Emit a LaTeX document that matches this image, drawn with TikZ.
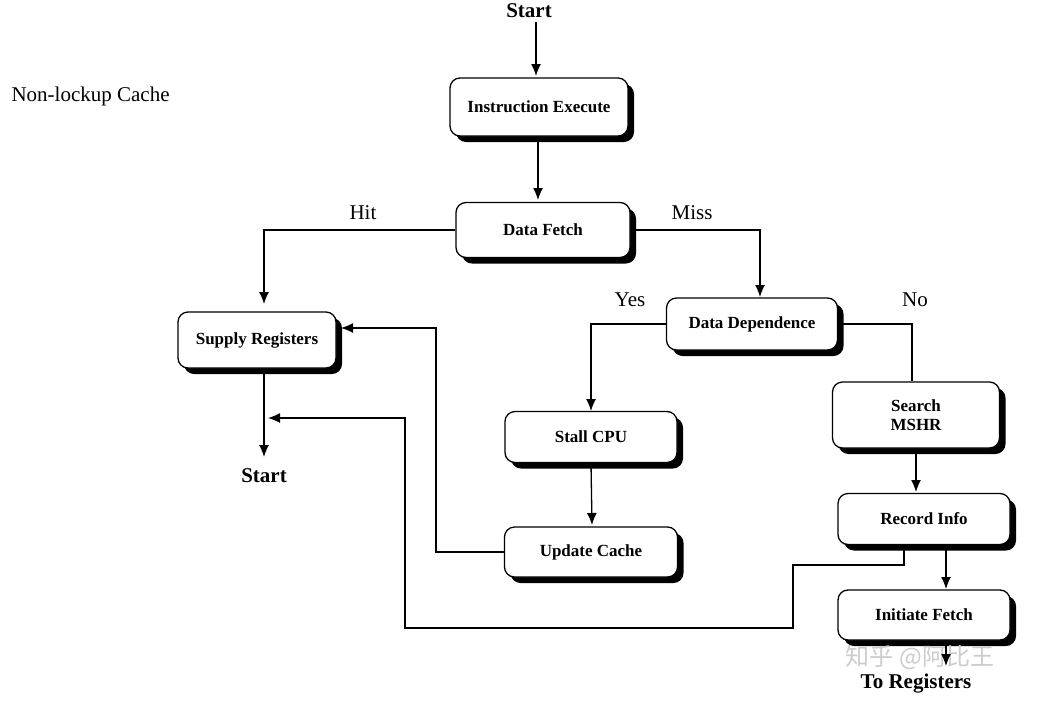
\documentclass[tikz,border=0pt]{standalone}
\usepackage{fontspec}
\setmainfont{Liberation Serif}
\newfontfamily\cjk{Noto Sans CJK SC}
\usetikzlibrary{arrows.meta,shadows}
\begin{document}
\begin{tikzpicture}[x=1pt,y=-1pt,
  box/.style={draw,line width=1.3pt,rounded corners=10pt,fill=white,
    drop shadow={shadow xshift=6pt,shadow yshift=-6pt,opacity=1,fill=black},
    font=\fontsize{17}{19}\selectfont\bfseries,align=center},
  lab/.style={font=\fontsize{21}{23}\selectfont},
  ln/.style={line width=1.3pt},
  ar/.style={line width=1.3pt,-{Latex[length=12pt,width=10pt]}}]
\useasboundingbox (0,0) rectangle (1050,702);
\node[box,minimum width=178pt,minimum height=58pt] (ie) at (539,107) {Instruction Execute};
\node[box,minimum width=174pt,minimum height=55pt] (df) at (543,230) {Data Fetch};
\node[box,minimum width=158pt,minimum height=56pt] (sr) at (257,340) {Supply Registers};
\node[box,minimum width=171pt,minimum height=52pt] (dd) at (752,324) {Data Dependence};
\node[box,minimum width=172pt,minimum height=51pt] (sc) at (591,437) {Stall CPU};
\node[box,minimum width=173pt,minimum height=50pt] (uc) at (591,552) {Update Cache};
\node[box,minimum width=167pt,minimum height=66pt] (sm) at (916,415) {Search\\MSHR};
\node[box,minimum width=172pt,minimum height=51pt] (ri) at (924,519) {Record Info};
\node[box,minimum width=172pt,minimum height=50pt] (if) at (924,615) {Initiate Fetch};
\node[lab,font=\fontsize{21}{23}\selectfont\bfseries] (s1) at (529,11) {Start};
\node[lab,font=\fontsize{21}{23}\selectfont\bfseries] (s2) at (264,476) {Start};
\node[lab,font=\fontsize{21}{23}\selectfont\bfseries] (tr) at (916,684) {To Registers};
\node[lab,anchor=west] (nl) at (8,96) {Non-lockup Cache};
\node[lab] (hit) at (363,213) {Hit};
\node[lab] (miss) at (692,213) {Miss};
\node[lab] (yes) at (630,300) {Yes};
\node[lab] (no) at (915,300) {No};
\node[text=gray!40,font=\cjk\fontsize{24}{26}\selectfont] (wm) at (920,657) {知乎 @阿比王};
\coordinate (c1) at (536,76);
\coordinate (c2) at (264,304);
\coordinate (c3) at (760,297);
\coordinate (c4) at (591,411);
\coordinate (c5) at (341,328);
\coordinate (c6) at (264,457);
\coordinate (c7) at (268,418);
\coordinate (c8) at (946,666);
\draw[ar] (536,22) -- (c1);
\draw[ar] (ie.south -| 538,0) -- (538,200);
\draw[ar] (df.west) -- (264,230) -- (c2);
\draw[ar] (df.east) -- (760,230) -- (c3);
\draw[ar] (dd.west) -- (591,324) -- (c4);
\draw[ln] (dd.east) -- (912,324) -- (sm.north -| 912,0);
\draw[ar] (sm.south) -- (916,492);
\draw[ar] (sc.south) -- (592,525);
\draw[ar] (uc.west) -- (436,552) -- (436,328) -- (c5);
\draw[ar] (sr.south -| 264,0) -- (c6);
\draw[ar] (904,544) -- (904,565) -- (793,565) -- (793,628) -- (405,628) -- (405,418) -- (c7);
\draw[ar] (946,544) -- (946,589);
\draw[ar] (946,640) -- (c8);
\end{tikzpicture}
\end{document}
